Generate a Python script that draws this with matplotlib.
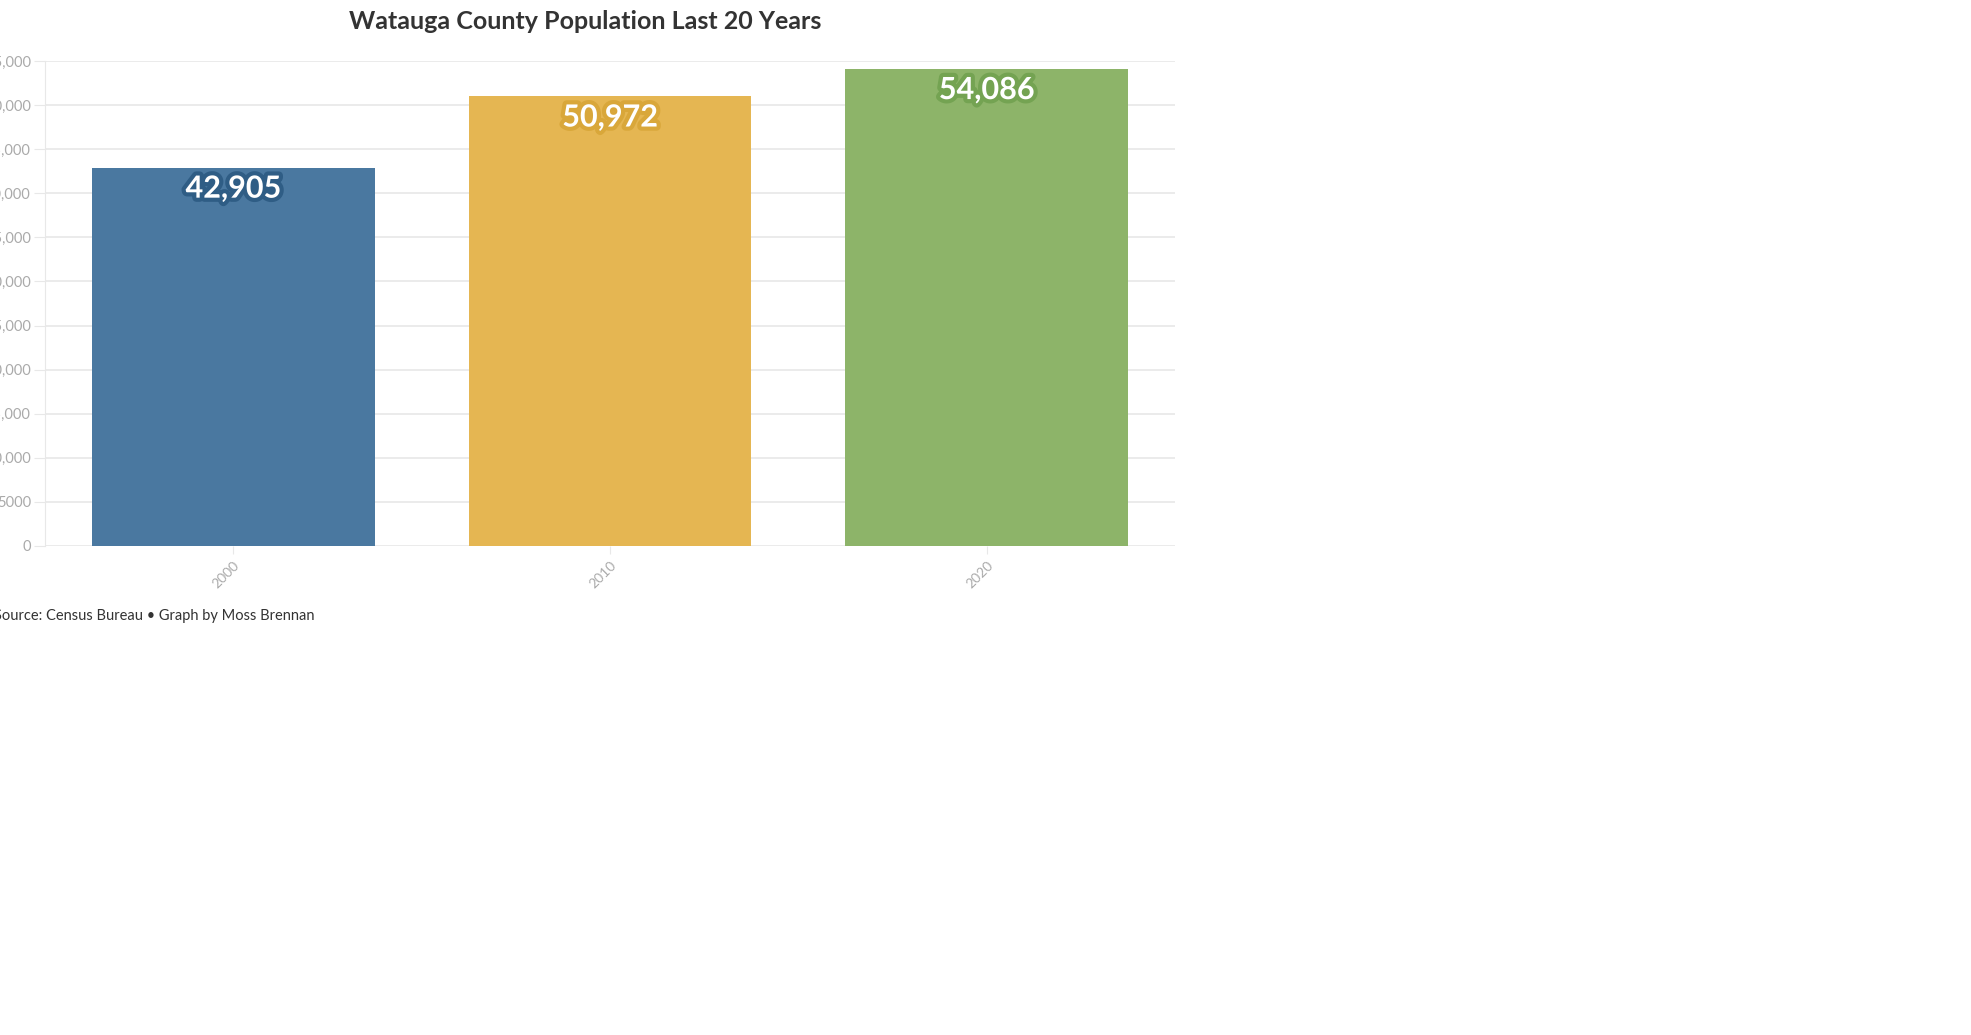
import matplotlib.pyplot as plt
import matplotlib.patheffects as pe

years = ["2000", "2010", "2020"]
population = [42905, 50972, 54086]
colors = ["#4a78a0", "#e5b652", "#8db469"]
halo = ["#2f5d85", "#d9a73a", "#74a352"]
yticks = list(range(0, 55001, 5000))


def fmt(v):
    return "5000" if v == 5000 else ("0" if v == 0 else f"{v:,}")


def main():
    plt.rcParams["font.family"] = ["Lato", "DejaVu Sans"]
    fig = plt.figure(figsize=(19.71, 10.35), dpi=100)
    ax = fig.add_axes([0.0228, 0.4725, 0.5733, 0.4686])

    x = range(len(years))
    ax.bar(x, population, width=0.75, color=colors, zorder=2)
    for i, v in enumerate(population):
        ax.text(i, v - 800, f"{v:,}", ha="center", va="top", fontsize=22,
                fontweight="bold", color="white", zorder=3,
                path_effects=[pe.withStroke(linewidth=6, foreground=halo[i])])

    ax.set_xlim(-0.5, 2.5)
    ax.set_ylim(0, 55000)
    ax.set_yticks(yticks)
    ax.set_yticklabels([fmt(v) for v in yticks], fontsize=10.5, color="#aaaaaa")
    ax.set_xticks(list(x))
    ax.set_xticklabels(years, rotation=45, ha="right", rotation_mode="anchor",
                       fontsize=10, color="#aaaaaa")
    ax.grid(axis="y", color="#e8e8e8", linewidth=1.2, zorder=0)
    for s in ["top", "right", "bottom"]:
        ax.spines[s].set_visible(False)
    ax.spines["left"].set_color("#e8e8e8")
    ax.tick_params(axis="y", length=8, color="#e8e8e8", pad=2)
    ax.tick_params(axis="x", length=6, color="#e8e8e8")

    fig.text(0.297, 0.99, "Watauga County Population Last 20 Years",
             ha="center", va="top", fontsize=18, fontweight="bold", color="#333333")
    fig.text(-0.003, 0.405, "Source: Census Bureau \u2022 Graph by Moss Brennan",
             ha="left", va="center", fontsize=10.5, color="#333333")

    fig.savefig("out.png", dpi=100)
    plt.close(fig)


if __name__ == "__main__":
    main()
